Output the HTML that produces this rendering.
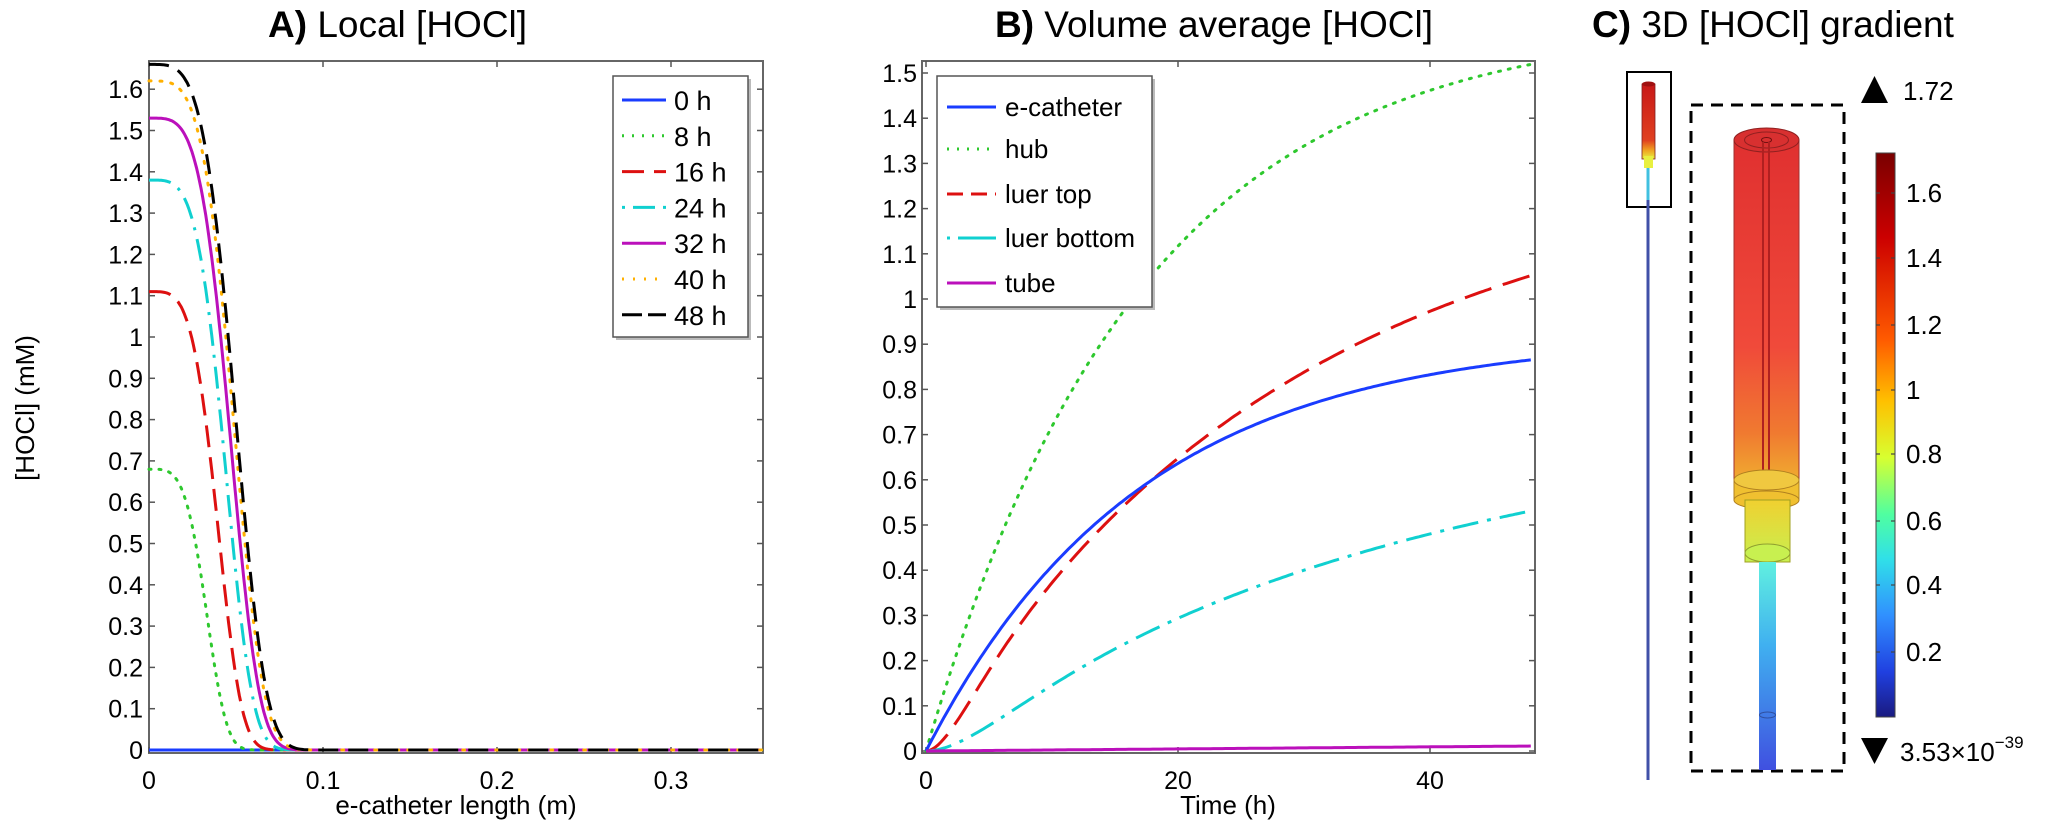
<!DOCTYPE html>
<html><head><meta charset="utf-8"><style>
html,body{margin:0;padding:0;background:#fff;}
svg{display:block;font-family:"Liberation Sans",sans-serif;}
</style></head><body>
<svg id="s" width="2066" height="822" viewBox="0 0 2066 822" xmlns="http://www.w3.org/2000/svg">
<defs>
<linearGradient id="cb" x1="0" y1="0" x2="0" y2="1">
<stop offset="0" stop-color="#7a0000"/><stop offset="0.15" stop-color="#cc0000"/>
<stop offset="0.33" stop-color="#ff5a00"/><stop offset="0.44" stop-color="#ffc000"/>
<stop offset="0.54" stop-color="#d8ff30"/><stop offset="0.64" stop-color="#50ffa0"/>
<stop offset="0.72" stop-color="#30e0e8"/><stop offset="0.82" stop-color="#3090ff"/>
<stop offset="0.92" stop-color="#2040e0"/><stop offset="1" stop-color="#1a1a80"/>
</linearGradient>
<linearGradient id="big" x1="0" y1="0" x2="0" y2="1">
<stop offset="0" stop-color="#e03030"/><stop offset="0.6" stop-color="#f04a3a"/>
<stop offset="0.85" stop-color="#f07a30"/><stop offset="1" stop-color="#f0b030"/>
</linearGradient>
<linearGradient id="mid" x1="0" y1="0" x2="0" y2="1">
<stop offset="0" stop-color="#f0d030"/><stop offset="1" stop-color="#c8f050"/>
</linearGradient>
<linearGradient id="thin" x1="0" y1="0" x2="0" y2="1">
<stop offset="0" stop-color="#60f0e0"/><stop offset="0.4" stop-color="#40b0f0"/><stop offset="1" stop-color="#4050e0"/>
</linearGradient>
<linearGradient id="small" x1="0" y1="0" x2="0" y2="1">
<stop offset="0" stop-color="#c81818"/><stop offset="0.75" stop-color="#e04020"/><stop offset="0.88" stop-color="#f0a020"/><stop offset="1" stop-color="#e8f040"/>
</linearGradient>
</defs>
<g id="g"></g>
<text x="268" y="37" font-size="37"><tspan font-weight="bold">A)</tspan> Local [HOCl]</text>
<text x="1214" y="37" font-size="37" text-anchor="middle"><tspan font-weight="bold">B)</tspan> Volume average [HOCl]</text>
<text x="1592" y="37" font-size="37"><tspan font-weight="bold">C)</tspan> 3D [HOCl] gradient</text>
<text transform="translate(34,408) rotate(-90)" font-size="26" text-anchor="middle">[HOCl] (mM)</text>
<text x="456" y="814" font-size="26" text-anchor="middle">e-catheter length (m)</text>
<text x="1228" y="814" font-size="26" text-anchor="middle">Time (h)</text>

<rect x="1627" y="72" width="44" height="135" fill="none" stroke="#000" stroke-width="2"/>
<line x1="1648" y1="160" x2="1648" y2="780" stroke="#4050a8" stroke-width="3"/>
<line x1="1648" y1="160" x2="1648" y2="200" stroke="#40c0e0" stroke-width="3"/>
<rect x="1642" y="84" width="13" height="75" fill="url(#small)" stroke="#802020" stroke-width="0.8"/>
<ellipse cx="1648.5" cy="84" rx="6.5" ry="2.5" fill="#a01010"/>
<rect x="1644" y="156" width="9" height="12" fill="#e8f040"/>
<rect x="1691" y="105" width="153" height="666" fill="none" stroke="#000" stroke-width="3" stroke-dasharray="12,8"/>
<rect x="1734" y="140" width="65" height="345" fill="url(#big)" stroke="#a03030" stroke-width="1"/>
<ellipse cx="1766.5" cy="140" rx="32.5" ry="12" fill="#d83030" stroke="#902020" stroke-width="1"/>
<ellipse cx="1766.5" cy="140" rx="22" ry="8" fill="none" stroke="#902020" stroke-width="1"/>
<ellipse cx="1766.5" cy="140" rx="5" ry="2.5" fill="none" stroke="#701010" stroke-width="1"/>
<line x1="1763" y1="142" x2="1763" y2="480" stroke="#b02020" stroke-width="2"/>
<line x1="1769" y1="142" x2="1769" y2="480" stroke="#b02020" stroke-width="2"/>
<rect x="1734" y="480" width="65" height="20" fill="#f0c030" stroke="#b08020" stroke-width="1"/>
<ellipse cx="1766.5" cy="480" rx="32.5" ry="10" fill="#f0c840" stroke="#b08020" stroke-width="1"/>
<ellipse cx="1766.5" cy="500" rx="32.5" ry="9" fill="#f0c030" stroke="#b08020" stroke-width="1"/>
<rect x="1745" y="500" width="45" height="62" fill="url(#mid)" stroke="#a0a020" stroke-width="1"/>
<ellipse cx="1767.5" cy="553" rx="22.5" ry="9" fill="#c8f050" stroke="#90a030" stroke-width="1"/>
<rect x="1759" y="562" width="17" height="208" fill="url(#thin)"/>
<ellipse cx="1767.5" cy="715" rx="8" ry="3" fill="none" stroke="#3050a0" stroke-width="1"/>
<rect x="1876" y="153" width="19" height="564" fill="url(#cb)" stroke="#444" stroke-width="1"/>
<g font-size="26">
<text x="1906" y="202">1.6</text><text x="1906" y="267">1.4</text><text x="1906" y="334">1.2</text>
<text x="1906" y="399">1</text><text x="1906" y="463">0.8</text><text x="1906" y="530">0.6</text>
<text x="1906" y="594">0.4</text><text x="1906" y="661">0.2</text>
<text x="1903" y="100">1.72</text>
<text x="1900" y="761">3.53×10<tspan font-size="17" dy="-13">−39</tspan></text>
</g>
<polygon points="1861,103 1888,103 1874.5,76" fill="#000"/>
<polygon points="1861,738 1888,738 1874.5,764" fill="#000"/>
<g stroke="#444" stroke-width="1.2">
<line x1="1876" y1="193" x2="1880" y2="193"/><line x1="1891" y1="193" x2="1895" y2="193"/>
<line x1="1876" y1="258" x2="1880" y2="258"/><line x1="1891" y1="258" x2="1895" y2="258"/>
<line x1="1876" y1="325" x2="1880" y2="325"/><line x1="1891" y1="325" x2="1895" y2="325"/>
<line x1="1876" y1="390" x2="1880" y2="390"/><line x1="1891" y1="390" x2="1895" y2="390"/>
<line x1="1876" y1="454" x2="1880" y2="454"/><line x1="1891" y1="454" x2="1895" y2="454"/>
<line x1="1876" y1="521" x2="1880" y2="521"/><line x1="1891" y1="521" x2="1895" y2="521"/>
<line x1="1876" y1="585" x2="1880" y2="585"/><line x1="1891" y1="585" x2="1895" y2="585"/>
<line x1="1876" y1="652" x2="1880" y2="652"/><line x1="1891" y1="652" x2="1895" y2="652"/>
</g>
</svg>
<script>
(function(){
var NS="http://www.w3.org/2000/svg",g=document.getElementById("g");
function el(t,a,txt){var e=document.createElementNS(NS,t);for(var k in a)e.setAttribute(k,a[k]);if(txt!==undefined)e.textContent=txt;g.appendChild(e);return e;}
var C={blue:"#1a3cff",green:"#2ec82e",red:"#dd1010",cyan:"#10d0d0",mag:"#bb10bb",org:"#ffb000",blk:"#000"};
var S={solid:"",dot:"2,8",dash:"22,10",dd:"22,9,3,9",dotO:"2,9",dashK:"20,10"};
var AL=149,AR=763,AT=61,AB=753,Ax=function(v){return AL+v*1740;},Ay=function(v){return 750-v*413;};
el("rect",{x:AL,y:AT,width:AR-AL,height:AB-AT,fill:"none",stroke:"#666","stroke-width":2});
for(var i=0;i<=16;i++){var y=Ay(i/10);el("line",{x1:AL,y1:y,x2:AL+6,y2:y,stroke:"#555","stroke-width":1.5});el("line",{x1:AR-6,y1:y,x2:AR,y2:y,stroke:"#555","stroke-width":1.5});
el("text",{x:AL-6,y:y+9,"font-size":25,"text-anchor":"end"},i==0?"0":i==10?"1":(i/10).toFixed(1));}
for(var i=0;i<=3;i++){var x=Ax(i/10);el("line",{x1:x,y1:AB,x2:x,y2:AB-6,stroke:"#555","stroke-width":1.5});el("line",{x1:x,y1:AT,x2:x,y2:AT+6,stroke:"#555","stroke-width":1.5});
el("text",{x:x,y:789,"font-size":25,"text-anchor":"middle"},i==0?"0":(i/10).toFixed(1));}
function curveA(v0,s,col,da){var d="";for(var k=0;k<=400;k++){var x=k/400*0.352;var v=v0*Math.exp(-Math.pow(x/s,4));d+=(k?"L":"M")+Ax(x).toFixed(1)+","+Ay(v).toFixed(1);}
el("path",{d:d,fill:"none",stroke:col,"stroke-width":3,"stroke-dasharray":da,"stroke-linecap":da==S.dot||da==S.dotO?"round":"butt"});}
curveA(0,0.05,C.blue,"");
curveA(0.68,0.036,C.green,S.dot);
curveA(1.11,0.043,C.red,S.dash);
curveA(1.38,0.048,C.cyan,S.dd);
curveA(1.53,0.051,C.mag,"");
curveA(1.62,0.053,C.org,S.dotO);
curveA(1.66,0.054,C.blk,S.dashK);
el("rect",{x:616,y:79,width:135,height:261,fill:"#bbb"});
el("rect",{x:613,y:76,width:135,height:261,fill:"#fff",stroke:"#555","stroke-width":1.5});
var LA=[["0 h",C.blue,""],["8 h",C.green,S.dot],["16 h",C.red,S.dash],["24 h",C.cyan,"3,8,22,8"],["32 h",C.mag,""],["40 h",C.org,S.dotO],["48 h",C.blk,"20,6"]];
LA.forEach(function(r,i){var y=100+i*35.8;el("line",{x1:622,y1:y,x2:666,y2:y,stroke:r[1],"stroke-width":3,"stroke-dasharray":r[2]});el("text",{x:674,y:y+10,"font-size":27},r[0]);});
var BL=922,BR=1535,BT=61,BB=753,Bx=function(t){return 926+t*12.6;},By=function(v){return 751-v*452;};
el("rect",{x:BL,y:BT,width:BR-BL,height:BB-BT,fill:"none",stroke:"#666","stroke-width":2});
for(var i=0;i<=15;i++){var y=By(i/10);el("line",{x1:BL,y1:y,x2:BL+6,y2:y,stroke:"#555","stroke-width":1.5});el("line",{x1:BR-6,y1:y,x2:BR,y2:y,stroke:"#555","stroke-width":1.5});
el("text",{x:BL-5,y:y+9,"font-size":25,"text-anchor":"end"},i==0?"0":i==10?"1":(i/10).toFixed(1));}
[0,20,40].forEach(function(t){var x=Bx(t);el("line",{x1:x,y1:BB,x2:x,y2:BB-6,stroke:"#555","stroke-width":1.5});el("line",{x1:x,y1:BT,x2:x,y2:BT+6,stroke:"#555","stroke-width":1.5});
el("text",{x:x,y:789,"font-size":25,"text-anchor":"middle"},""+t);});
function curveB(f,col,da){var d="";for(var k=0;k<=200;k++){var t=k/200*48;d+=(k?"L":"M")+Bx(t).toFixed(1)+","+By(f(t)).toFixed(1);}
el("path",{d:d,fill:"none",stroke:col,"stroke-width":3,"stroke-dasharray":da,"stroke-linecap":da==S.dot?"round":"butt"});}
curveB(function(t){return 1.615*(1-Math.exp(-t/17));},C.green,S.dot);
curveB(function(t){return 1.3*(1-Math.exp(-t/29))*(1-Math.exp(-t/2.5));},C.red,"28,12");
curveB(function(t){return 0.92*(1-Math.exp(-t/17));},C.blue,"");
curveB(function(t){return 0.76*(1-Math.exp(-t/40))*(1-Math.exp(-t/5));},C.cyan,"26,9,4,9");
curveB(function(t){return 0.011*t/48;},C.mag,"");
el("rect",{x:940,y:79,width:215,height:231,fill:"#bbb"});
el("rect",{x:937,y:76,width:215,height:231,fill:"#fff",stroke:"#555","stroke-width":1.5});
var LB=[["e-catheter",C.blue,"",107],["hub",C.green,S.dot,149],["luer top",C.red,"16,8",194],["luer bottom",C.cyan,"3,8,36,0",238],["tube",C.mag,"",283]];
LB.forEach(function(r){el("line",{x1:947,y1:r[3],x2:996,y2:r[3],stroke:r[1],"stroke-width":3,"stroke-dasharray":r[2]});el("text",{x:1005,y:r[3]+9,"font-size":26},r[0]);});
})();
</script>
</body></html>
